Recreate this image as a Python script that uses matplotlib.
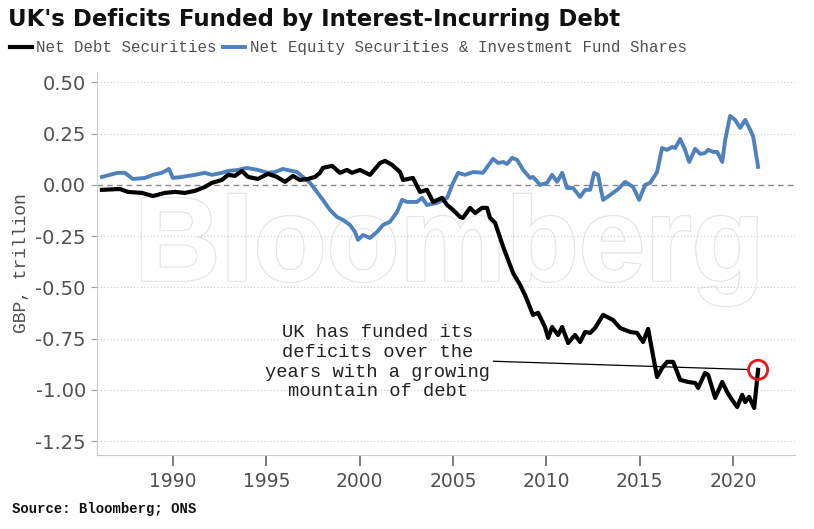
import matplotlib
matplotlib.use("Agg")
import matplotlib.pyplot as plt
import matplotlib.patheffects as pe

# ---- data (GBP trillion) ----
debt_years = [1986.2, 1987.16, 1987.59, 1988.34, 1988.93, 1989.57, 1990.11, 1990.64, 1991.18, 1991.71,
              1992.09, 1992.62, 1992.95, 1993.32, 1993.70, 1994.02, 1994.55, 1995.09, 1995.57, 1996.0,
              1996.43, 1996.80, 1997.23, 1997.61, 1997.87, 1998.03, 1998.52, 1998.94, 1999.32, 1999.59,
              2000.02, 2000.55, 2001.09, 2001.36, 2001.73, 2002.16, 2002.32, 2002.85, 2003.23, 2003.60,
              2003.93, 2004.41, 2004.68, 2005.0, 2005.37, 2005.53, 2005.91, 2006.18, 2006.55, 2006.82,
              2006.98, 2007.25, 2007.68, 2008.21, 2008.59, 2008.85, 2009.28, 2009.55, 2009.92, 2010.09,
              2010.30, 2010.62, 2010.84, 2011.16, 2011.53, 2011.80, 2012.07, 2012.34, 2012.60, 2013.03,
              2013.57, 2013.94, 2014.48, 2014.85, 2015.17, 2015.44, 2015.92, 2016.19, 2016.46, 2016.78,
              2017.16, 2017.58, 2017.96, 2018.12, 2018.49, 2018.66, 2018.87, 2019.03, 2019.41, 2019.67,
              2019.94, 2020.21, 2020.48, 2020.64, 2020.85, 2021.12, 2021.33]
debt_values = [-0.024, -0.020, -0.034, -0.039, -0.054, -0.039, -0.034, -0.039, -0.029, -0.010,
               0.010, 0.024, 0.049, 0.044, 0.068, 0.039, 0.029, 0.054, 0.039, 0.015,
               0.044, 0.024, 0.029, 0.039, 0.059, 0.083, 0.093, 0.059, 0.073, 0.059,
               0.073, 0.049, 0.107, 0.117, 0.098, 0.063, 0.024, 0.034, -0.034, -0.024,
               -0.083, -0.063, -0.098, -0.122, -0.156, -0.161, -0.112, -0.137, -0.112, -0.112,
               -0.161, -0.185, -0.302, -0.429, -0.488, -0.537, -0.634, -0.624, -0.693, -0.746,
               -0.693, -0.732, -0.693, -0.771, -0.732, -0.766, -0.717, -0.722, -0.698, -0.634,
               -0.659, -0.698, -0.717, -0.722, -0.766, -0.702, -0.937, -0.893, -0.863, -0.863,
               -0.951, -0.961, -0.966, -0.990, -0.917, -0.927, -0.990, -1.039, -0.961, -1.010,
               -1.049, -1.083, -1.024, -1.059, -1.034, -1.088, -0.902]

equity_years = [1986.2, 1987.05, 1987.43, 1987.86, 1988.50, 1988.93, 1989.41, 1989.79, 1990.0, 1990.48,
                1990.80, 1991.18, 1991.71, 1992.09, 1992.62, 1992.95, 1993.48, 1993.96, 1994.55, 1995.09,
                1995.46, 1995.89, 1996.37, 1996.64, 1996.96, 1997.34, 1997.71, 1998.03, 1998.41, 1998.78,
                1999.11, 1999.48, 1999.75, 1999.91, 2000.18, 2000.55, 2000.93, 2001.25, 2001.62, 2002.0,
                2002.27, 2002.53, 2003.07, 2003.34, 2003.60, 2004.14, 2004.68, 2005.0, 2005.27, 2005.64,
                2006.07, 2006.60, 2007.14, 2007.41, 2007.68, 2007.89, 2008.16, 2008.43, 2008.75, 2009.12,
                2009.28, 2009.66, 2010.03, 2010.30, 2010.57, 2010.84, 2011.10, 2011.43, 2011.80, 2012.07,
                2012.34, 2012.55, 2012.76, 2013.03, 2013.41, 2013.84, 2014.21, 2014.64, 2014.96, 2015.28,
                2015.55, 2015.92, 2016.19, 2016.46, 2016.73, 2016.89, 2017.16, 2017.42, 2017.64, 2017.96,
                2018.23, 2018.49, 2018.66, 2018.92, 2019.14, 2019.41, 2019.57, 2019.83, 2020.10, 2020.37,
                2020.64, 2020.91, 2021.07, 2021.33]
equity_values = [0.039, 0.059, 0.059, 0.029, 0.034, 0.049, 0.059, 0.078, 0.034, 0.039,
                 0.044, 0.049, 0.059, 0.049, 0.059, 0.068, 0.073, 0.083, 0.073, 0.059,
                 0.063, 0.078, 0.068, 0.063, 0.039, 0.010, -0.034, -0.073, -0.122, -0.156,
                 -0.171, -0.195, -0.229, -0.268, -0.244, -0.259, -0.229, -0.195, -0.180, -0.132,
                 -0.073, -0.083, -0.083, -0.063, -0.098, -0.088, -0.063, 0.010, 0.059, 0.049,
                 0.063, 0.059, 0.127, 0.107, 0.112, 0.102, 0.132, 0.122, 0.073, 0.034,
                 0.039, 0.000, 0.010, 0.049, 0.015, 0.059, -0.015, -0.015, -0.059, -0.024,
                 -0.024, 0.059, 0.049, -0.073, -0.049, -0.020, 0.015, -0.010, -0.073, 0.000,
                 0.010, 0.063, 0.180, 0.171, 0.185, 0.180, 0.224, 0.171, 0.112, 0.176,
                 0.151, 0.156, 0.171, 0.161, 0.161, 0.112, 0.220, 0.337, 0.317, 0.278,
                 0.317, 0.268, 0.234, 0.088]

y_ticks = [0.50, 0.25, 0.00, -0.25, -0.50, -0.75, -1.00, -1.25]
x_ticks = [1990, 1995, 2000, 2005, 2010, 2015, 2020]

title = "UK's Deficits Funded by Interest-Incurring Debt"
series_names = ["Net Debt Securities", "Net Equity Securities & Investment Fund Shares"]
annotation = "UK has funded its\ndeficits over the\nyears with a growing\nmountain of debt"

BLACK = "#000000"
BLUE = "#4f81bd"
GREY = "#505050"

fig = plt.figure(figsize=(8.14, 5.29), dpi=100)
ax = fig.add_axes([0.119, 0.140, 0.858, 0.724])

# watermark
ax.text(0.505, 0.535, "Bloomberg", transform=ax.transAxes, ha="center", va="center",
        fontsize=86, fontweight="bold", family="Liberation Sans", color="white", zorder=0,
        path_effects=[pe.withStroke(linewidth=2, foreground="#e6e6e6"), pe.Normal()])

for v in y_ticks:
    if v != 0:
        ax.axhline(v, color="#cfcfcf", lw=0.8, ls=(0, (1, 2)), zorder=1)
ax.axhline(0, color="#888888", lw=1.0, ls=(0, (4, 3)), zorder=1)

l1, = ax.plot(debt_years, debt_values, color=BLACK, lw=3.0, zorder=3, solid_joinstyle="round")
l2, = ax.plot(equity_years, equity_values, color=BLUE, lw=2.8, zorder=2, solid_joinstyle="round")

# annotation
ax.annotate("", xy=(debt_years[-1], debt_values[-1]), xytext=(2007.15, -0.86),
            arrowprops=dict(arrowstyle="-", color="black", lw=0.9, shrinkA=0, shrinkB=7), zorder=4)
ax.text(2000.98, -0.865, annotation, ha="center", va="center", fontsize=13.5,
        family="Liberation Mono", color="#222222", linespacing=1.2, zorder=5)
ax.scatter([debt_years[-1]], [debt_values[-1]], s=190, facecolors="none", edgecolors="#e31a1c",
           linewidths=2, zorder=6)

ax.set_xlim(1985.93, 2023.32)
ax.set_ylim(-1.317, 0.551)
ax.set_yticks(y_ticks)
ax.set_yticklabels([f"{v:.2f}" for v in y_ticks])
ax.set_xticks(x_ticks)
ax.set_xticklabels([str(x) for x in x_ticks])

for s in ["top", "right"]:
    ax.spines[s].set_visible(False)
ax.spines["left"].set_color("#d0d0d0")
ax.spines["bottom"].set_color("#c8c8c8")
ax.tick_params(axis="y", length=4, color="#999999", labelcolor=GREY, labelsize=14, pad=4)
ax.tick_params(axis="x", length=8, width=1.2, color="#666666", labelcolor=GREY, labelsize=13.5,
               direction="out", pad=4)
ax.set_ylabel("GBP, trillion", color=GREY, fontsize=13, family="Liberation Mono", labelpad=4)

fig.text(0.010, 0.985, title, ha="left", va="top", fontsize=16.5, fontweight="bold",
         family="DejaVu Sans", color="#111111")
fig.legend([l1, l2], series_names, loc="upper left", bbox_to_anchor=(0.004, 0.936), ncol=2,
           frameon=False, handlelength=1.4, handletextpad=0.3, columnspacing=0.4,
           prop={"family": "Liberation Mono", "size": 11.3}, labelcolor=GREY, borderaxespad=0)
fig.text(0.015, 0.025, "Source: Bloomberg; ONS", ha="left", va="bottom", fontsize=10,
         fontweight="bold", family="Liberation Mono", color="#111111")

fig.savefig("out.png", dpi=100)
